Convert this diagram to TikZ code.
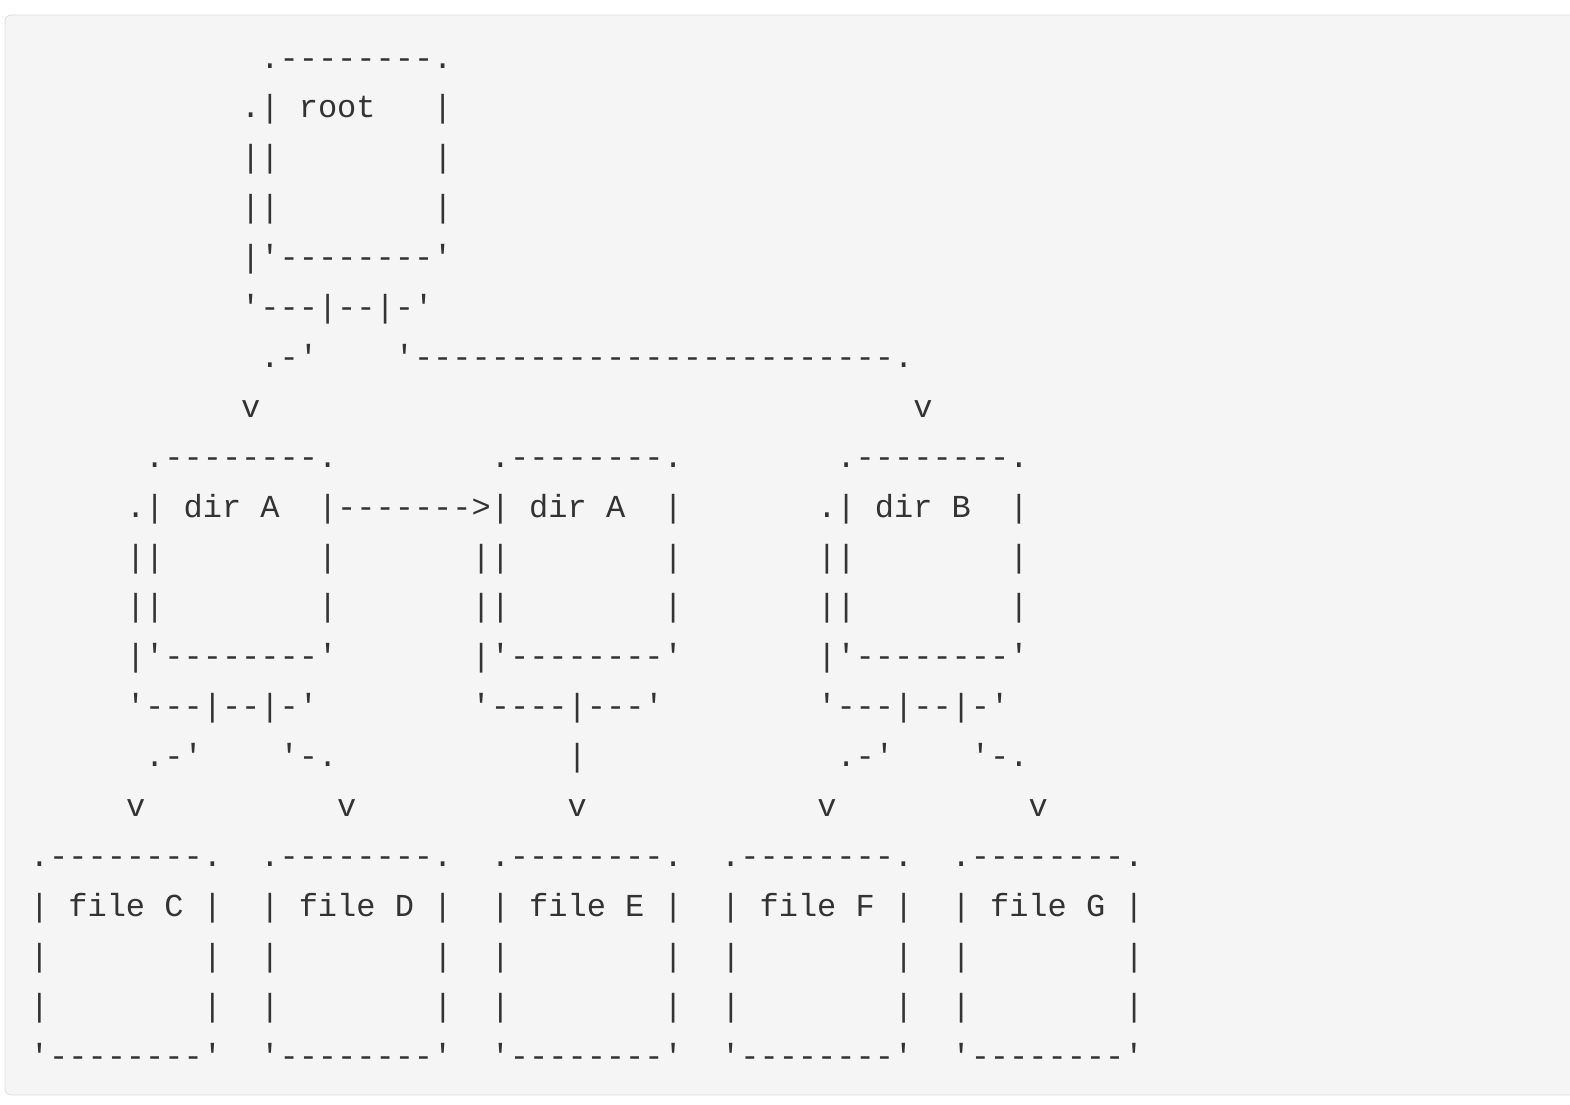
\documentclass[tikz,border=0pt]{standalone}
\usepackage{fontspec}
\newfontfamily\mono{Liberation Mono}
\definecolor{bg}{HTML}{F5F5F5}
\definecolor{bd}{HTML}{DDDDDD}
\definecolor{ink}{HTML}{333333}
\begin{document}
\begin{tikzpicture}[x=0.5pt,y=-0.5pt,
  ln/.style={anchor=base west,inner sep=0pt,outer sep=0pt,font=\mono\fontsize{16}{16}\selectfont,text=ink}]
\useasboundingbox (0,0) rectangle (1570,1104);
\draw[bd,fill=bg,rounded corners=3pt] (5,15) rectangle (1590,1095);
\foreach \t [count=\i] in {
~~~~~~~~~~~~.--------.,
~~~~~~~~~~~.|~root~~~|,
~~~~~~~~~~~||~~~~~~~~|,
~~~~~~~~~~~||~~~~~~~~|,
~~~~~~~~~~~|'--------',
~~~~~~~~~~~'---|--|-',
~~~~~~~~~~~~.-'~~~~'-------------------------.,
~~~~~~~~~~~v~~~~~~~~~~~~~~~~~~~~~~~~~~~~~~~~~~v,
~~~~~~.--------.~~~~~~~~.--------.~~~~~~~~.--------.,
~~~~~.|~dir~A~~|------->|~dir~A~~|~~~~~~~.|~dir~B~~|,
~~~~~||~~~~~~~~|~~~~~~~||~~~~~~~~|~~~~~~~||~~~~~~~~|,
~~~~~||~~~~~~~~|~~~~~~~||~~~~~~~~|~~~~~~~||~~~~~~~~|,
~~~~~|'--------'~~~~~~~|'--------'~~~~~~~|'--------',
~~~~~'---|--|-'~~~~~~~~'----|---'~~~~~~~~'---|--|-',
~~~~~~.-'~~~~'-.~~~~~~~~~~~~|~~~~~~~~~~~~~.-'~~~~'-.,
~~~~~v~~~~~~~~~~v~~~~~~~~~~~v~~~~~~~~~~~~v~~~~~~~~~~v,
.--------.~~.--------.~~.--------.~~.--------.~~.--------.,
|~file~C~|~~|~file~D~|~~|~file~E~|~~|~file~F~|~~|~file~G~|,
|~~~~~~~~|~~|~~~~~~~~|~~|~~~~~~~~|~~|~~~~~~~~|~~|~~~~~~~~|,
|~~~~~~~~|~~|~~~~~~~~|~~|~~~~~~~~|~~|~~~~~~~~|~~|~~~~~~~~|,
'--------'~~'--------'~~'--------'~~'--------'~~'--------'}
  \node[ln] (l\i) at (30,{68+49.9*(\i-1)}) {\t};
\end{tikzpicture}
\end{document}
